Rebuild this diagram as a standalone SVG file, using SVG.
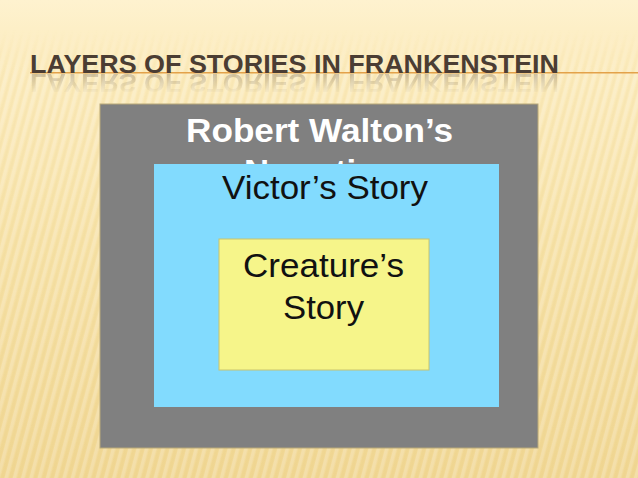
<svg xmlns="http://www.w3.org/2000/svg" width="638" height="478" viewBox="0 0 638 478">
  <defs>
    <linearGradient id="bg" x1="0" y1="0" x2="0" y2="1">
      <stop offset="0" stop-color="#fef2cf"/>
      <stop offset="0.12" stop-color="#fcecbf"/>
      <stop offset="0.5" stop-color="#f7e2a8"/>
      <stop offset="1" stop-color="#f1d794"/>
    </linearGradient>
    <pattern id="stripes" width="8" height="40" patternUnits="userSpaceOnUse" patternTransform="rotate(15)">
      <rect x="0" y="0" width="3.5" height="40" fill="#ffffff" fill-opacity="0.2"/>
      <rect x="4.5" y="0" width="2.5" height="40" fill="#d9b866" fill-opacity="0.08"/>
    </pattern>
    <linearGradient id="stripeFade" x1="0" y1="0" x2="0" y2="1">
      <stop offset="0" stop-color="#fff" stop-opacity="0"/>
      <stop offset="0.06" stop-color="#fff" stop-opacity="0"/>
      <stop offset="0.16" stop-color="#fff" stop-opacity="1"/>
      <stop offset="1" stop-color="#fff" stop-opacity="1"/>
    </linearGradient>
    <mask id="stripeMask">
      <rect x="0" y="0" width="638" height="478" fill="url(#stripeFade)"/>
    </mask>
    <linearGradient id="reflFade" x1="0" y1="74" x2="0" y2="94" gradientUnits="userSpaceOnUse">
      <stop offset="0" stop-color="#fff" stop-opacity="0.25"/>
      <stop offset="1" stop-color="#fff" stop-opacity="0"/>
    </linearGradient>
    <mask id="reflMask">
      <rect x="0" y="74" width="638" height="22" fill="url(#reflFade)"/>
    </mask>
    <style>
      .title { font-family: "Liberation Sans", Arial, sans-serif; font-size: 25px; font-weight: bold; fill: #4b3d33; }
      .box-text { font-family: "Liberation Sans", Arial, sans-serif; font-size: 33px; text-anchor: middle; }
      .bold-white { font-weight: bold; fill: #ffffff; }
      .dark { fill: #111111; }
    </style>
  </defs>

  <!-- background -->
  <rect x="0" y="0" width="638" height="478" fill="url(#bg)"/>
  <rect x="0" y="0" width="638" height="478" fill="url(#stripes)" mask="url(#stripeMask)"/>

  <!-- title -->
  <g id="title">
    <line x1="30" y1="72.8" x2="638" y2="72.8" stroke="#e3a24a" stroke-width="1.5"/>
    <text class="title" x="30" y="73" textLength="529" lengthAdjust="spacingAndGlyphs">LAYERS OF STORIES IN FRANKENSTEIN</text>
    <g mask="url(#reflMask)">
      <text class="title" x="30" y="73" textLength="529" lengthAdjust="spacingAndGlyphs" transform="translate(0,147) scale(1,-1)">LAYERS OF STORIES IN FRANKENSTEIN</text>
    </g>
  </g>

  <!-- outer layer -->
  <g id="walton">
    <rect x="100" y="104" width="438" height="344" fill="#808080" stroke="#b8a878" stroke-width="1"/>
    <text class="box-text bold-white" x="319.5" y="141.5" textLength="267" lengthAdjust="spacingAndGlyphs">Robert Walton’s</text>
    <text class="box-text bold-white" x="319.5" y="183" textLength="151" lengthAdjust="spacingAndGlyphs">Narrative</text>
  </g>

  <!-- middle layer -->
  <g id="victor">
    <rect x="154" y="164" width="345" height="243" fill="#82dbfe"/>
    <text class="box-text dark" x="325" y="198.5" textLength="206" lengthAdjust="spacingAndGlyphs">Victor’s Story</text>
  </g>

  <!-- inner layer -->
  <g id="creature">
    <rect x="219" y="239" width="210" height="131" fill="#f6f58a" stroke="#c8c46e" stroke-width="1"/>
    <text class="box-text dark" x="323.5" y="277" textLength="161" lengthAdjust="spacingAndGlyphs">Creature’s</text>
    <text class="box-text dark" x="323.5" y="318.5" textLength="81" lengthAdjust="spacingAndGlyphs">Story</text>
  </g>

  <g id="connectors"></g>
</svg>
